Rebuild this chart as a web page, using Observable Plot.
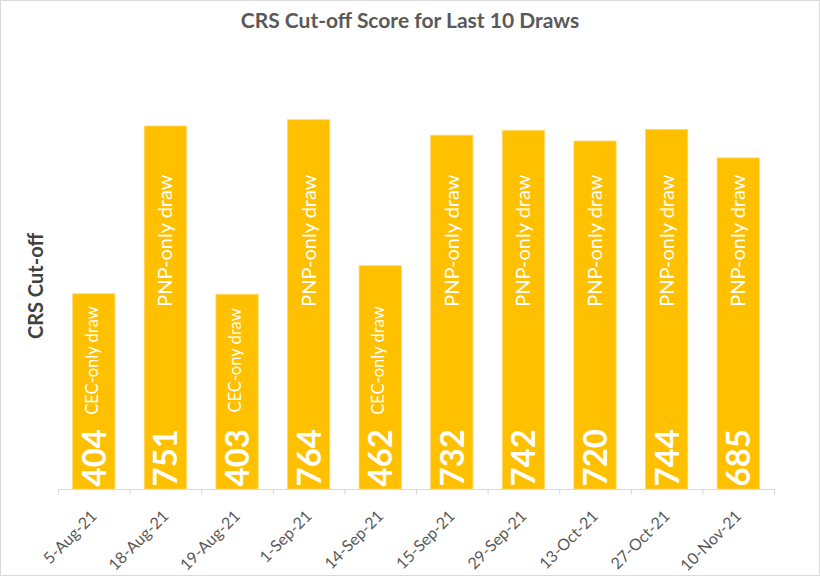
<!DOCTYPE html>
<html>
<head>
<meta charset="utf-8">
<script src="https://cdn.jsdelivr.net/npm/d3@7"></script>
<script src="https://cdn.jsdelivr.net/npm/@observablehq/plot@0.6"></script>
<style>
  html, body { margin: 0; padding: 0; background: #fff; }
  #chart { width: 820px; height: 576px; box-sizing: border-box; border: 1px solid #d9d9d9; background: #fff; overflow: hidden; }
  #title { height: 40px; line-height: 38px; text-align: center; font-family: Lato, "Open Sans", sans-serif; font-weight: bold; font-size: 21px; color: #595959; }
</style>
</head>
<body>
<div id="chart">
  <div id="title">CRS Cut-off Score for Last 10 Draws</div>
</div>
<script>
const dates = ["5-Aug-21","18-Aug-21","19-Aug-21","1-Sep-21","14-Sep-21","15-Sep-21","29-Sep-21","13-Oct-21","27-Oct-21","10-Nov-21"];
const scores = [404, 751, 403, 764, 462, 732, 742, 720, 744, 685];
const drawTypes = ["CEC-only draw","PNP-only draw","CEC-ony draw","PNP-only draw","CEC-only draw","PNP-only draw","PNP-only draw","PNP-only draw","PNP-only draw","PNP-only draw"];
const yLabel = "CRS Cut-off";

const data = dates.map((d, i) => ({date: d, score: scores[i], type: drawTypes[i], pnp: drawTypes[i].startsWith("PNP")}));

const W = 818, H = 534;
const mL = 57, mR = 45, mT = 13, mB = 86;
const step = (W - mL - mR) / dates.length;

const font = "Lato, 'Open Sans', sans-serif";

const plot = Plot.plot({
  width: W,
  height: H,
  marginLeft: mL,
  marginRight: mR,
  marginTop: mT,
  marginBottom: mB,
  style: {fontFamily: font, background: "#fff", overflow: "visible"},
  x: {domain: dates, paddingInner: 0.41, paddingOuter: 0.205, round: false, axis: null},
  y: {domain: [0, 900], axis: null},
  marks: [
    Plot.barY(data, {x: "date", y: "score", fill: "#FFC000", stroke: "#FFD966", strokeWidth: 0.8}),
    Plot.ruleY([0], {stroke: "#d9d9d9", strokeWidth: 1}),
    Plot.ruleX(dates, {x: d => d, y1: 0, y2: -12, stroke: "#d9d9d9", dx: -step / 2}),
    Plot.ruleX([dates[dates.length - 1]], {x: d => d, y1: 0, y2: -12, stroke: "#d9d9d9", dx: step / 2}),
    // value labels
    Plot.text(data, {x: "date", y: 0, text: d => String(d.score), rotate: -90, textAnchor: "start", dy: -3, dx: 1,
      fill: "white", fontSize: 33, fontWeight: "bold"}),
    // draw type labels
    Plot.text(data.filter(d => d.pnp), {x: "date", y: 515, text: "type", rotate: -90, textAnchor: "middle", dx: 0,
      fill: "white", fontSize: 20}),
    Plot.text(data.filter(d => !d.pnp), {x: "date", y: 267, text: "type", rotate: -90, textAnchor: "middle", dx: -2,
      fill: "white", fontSize: 16.5}),
    // x tick labels
    Plot.text(dates, {x: d => d, y: 0, text: d => d, rotate: -45, textAnchor: "end", lineAnchor: "middle", dx: 0, dy: 24,
      fill: "#595959", fontSize: 16}),
    // y label
    Plot.text([yLabel], {frameAnchor: "left", text: d => d, rotate: -90, textAnchor: "middle", dx: -22, dy: 14,
      fill: "#404040", fontSize: 20, fontWeight: "bold"})
  ]
});
document.getElementById("chart").appendChild(plot);
</script>
</body>
</html>
